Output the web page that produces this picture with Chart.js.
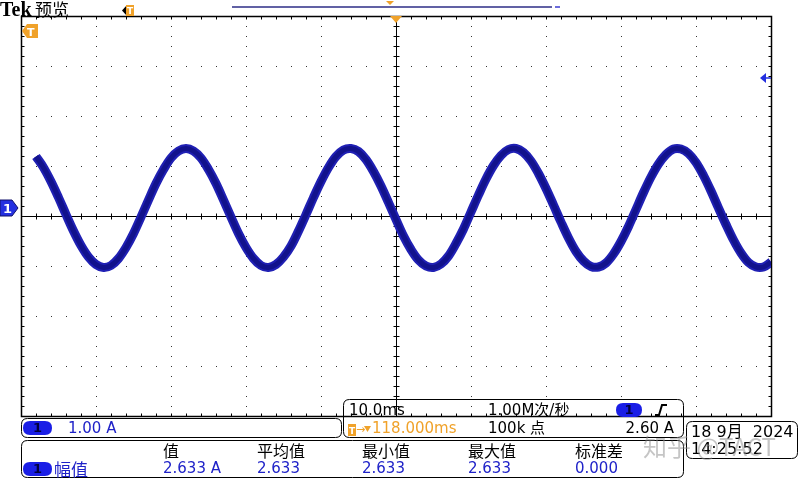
<!DOCTYPE html>
<html>
<head>
<meta charset="utf-8">
<script src="https://cdn.jsdelivr.net/npm/chart.js@4.4.1/dist/chart.umd.min.js"></script>
<style>
  html, body { margin: 0; padding: 0; background: #fff; }
  #scope { display: block; }
</style>
</head>
<body>
<canvas id="scope" width="800" height="480"></canvas>
<script>
// Temps des échantillons (ms, 10 ms/div) et courant voie 1 (A, 1 A/div)
const sampleTimes = [
  2, 3, 4, 5, 6, 7, 8, 9, 10, 11, 12, 13, 14, 15, 16, 17, 18, 19, 20, 21,
  22, 23, 24, 25, 26, 27, 28, 29, 30, 31, 32, 33, 34, 35, 36, 37, 38, 39, 40, 41, 42, 43,
  44, 45, 46, 47, 48, 49, 50, 51, 52, 53, 54, 55, 56, 57, 58, 59, 60, 61, 62, 63, 64, 65,
  66, 67, 68, 69, 70, 71, 72, 73, 74, 75, 76, 77, 78, 79, 80, 81, 82, 83, 84, 85, 86, 87,
  88, 89, 90, 91, 92, 93, 94, 95, 96, 97, 98, 99, 100
];
const ch1Current = [
  1.19, 0.97, 0.69, 0.37, 0.03, -0.30, -0.59, -0.82, -0.97, -1.03, -0.99, -0.85, -0.63, -0.35, -0.02, 0.32, 0.65, 0.93, 1.16, 1.30,
  1.35, 1.30, 1.16, 0.93, 0.65, 0.32, -0.02, -0.35, -0.63, -0.85, -0.99, -1.03, -0.97, -0.82, -0.60, -0.30, 0.03, 0.37, 0.69, 0.97, 1.19, 1.32,
  1.35, 1.29, 1.13, 0.89, 0.60, 0.27, -0.07, -0.40, -0.67, -0.88, -1.00, -1.03, -0.96, -0.80, -0.55, -0.26, 0.08, 0.42, 0.74, 1.01, 1.21, 1.33,
  1.35, 1.27, 1.10, 0.85, 0.55, 0.22, -0.12, -0.44, -0.71, -0.90, -1.01, -1.02, -0.94, -0.76, -0.51, -0.21, 0.13, 0.47, 0.78, 1.04, 1.23, 1.34,
  1.34, 1.25, 1.07, 0.81, 0.50, 0.16, -0.17, -0.48, -0.74, -0.93, -1.02, -1.02, -0.92
];

// Textes de l'écran
const measureHeaders = [ "值", "平均值", "最小值", "最大值", "标准差" ];
const measureValues = [ "2.633 A", "2.633", "2.633", "2.633", "0.000" ];
const measureX = [ 163, 257, 362, 468, 575 ];

const BLUE = "#1f22c8";
const ORANGE = "#f0a22a";
const TEXT_FONT = '"DejaVu Sans", "Noto Sans CJK SC", sans-serif';
const CJK_FONT = '"Noto Sans CJK SC", sans-serif';

function rrect( ctx, x, y, w, h, r ) {
	ctx.beginPath();
	ctx.moveTo( x + r, y );
	ctx.lineTo( x + w - r, y );
	ctx.quadraticCurveTo( x + w, y, x + w, y + r );
	ctx.lineTo( x + w, y + h - r );
	ctx.quadraticCurveTo( x + w, y + h, x + w - r, y + h );
	ctx.lineTo( x + r, y + h );
	ctx.quadraticCurveTo( x, y + h, x, y + h - r );
	ctx.lineTo( x, y + r );
	ctx.quadraticCurveTo( x, y, x + r, y );
	ctx.closePath();
}

function pill( ctx, x, y, w, h ) {
	rrect( ctx, x, y, w, h, h / 2 );
	ctx.fillStyle = "#1a1ee6";
	ctx.fill();
	ctx.fillStyle = "#000040";
	ctx.font = "bold 13px " + TEXT_FONT;
	ctx.textAlign = "center";
	ctx.textBaseline = "middle";
	ctx.fillText( "1", x + w / 2, y + h / 2 + 1 );
	ctx.textAlign = "left";
	ctx.textBaseline = "alphabetic";
}

//
// Réticule central, cadre et graduations, sous la trace
//
const reticule = {
	id: "reticule",
	beforeDatasetsDraw( chart ) {
		const ctx = chart.ctx;
		const a = chart.chartArea;
		const cx = Math.round( chart.scales.x.getPixelForValue( 50 ) ) + 0.5;
		const cy = Math.round( chart.scales.y.getPixelForValue( 0 ) ) + 0.5;
		const L = a.left + 0.5, R = a.right + 0.5, T = a.top + 0.5, B = a.bottom + 0.5;
		ctx.save();
		ctx.strokeStyle = "#000";
		ctx.lineWidth = 1;
		ctx.beginPath();
		ctx.moveTo( L, cy ); ctx.lineTo( R, cy );
		ctx.moveTo( cx, T ); ctx.lineTo( cx, B );
		for ( let x = L; x <= R + 0.1; x += 15 ) {
			ctx.moveTo( x, cy - 3 ); ctx.lineTo( x, cy + 3 );
			ctx.moveTo( x, T ); ctx.lineTo( x, T + 3 );
			ctx.moveTo( x, B - 3 ); ctx.lineTo( x, B );
		}
		for ( let y = T; y <= B + 0.1; y += 10 ) {
			ctx.moveTo( cx - 3, y ); ctx.lineTo( cx + 3, y );
			ctx.moveTo( L, y ); ctx.lineTo( L + 3, y );
			ctx.moveTo( R - 3, y ); ctx.lineTo( R, y );
		}
		ctx.stroke();
		ctx.lineWidth = 1.5;
		ctx.strokeRect( L, T, R - L, B - T );
		ctx.restore();
	},
	afterDraw( chart ) {
		const ctx = chart.ctx;
		const cx = chart.scales.x.getPixelForValue( 50 );
		ctx.save();

		// En-tête
		ctx.fillStyle = "#000";
		ctx.font = 'bold 20px "Liberation Serif", serif';
		ctx.fillText( "Tek", 0, 16 );
		ctx.font = "17px " + CJK_FONT;
		ctx.fillText( "预览", 35, 16 );

		// petit repère T de l'enregistrement
		ctx.beginPath();
		ctx.moveTo( 122, 10.5 ); ctx.lineTo( 127, 5 ); ctx.lineTo( 127, 16 ); ctx.closePath();
		ctx.fillStyle = "#000"; ctx.fill();
		ctx.fillStyle = ORANGE; ctx.fillRect( 126, 5, 8, 11 );
		ctx.fillStyle = "#fff"; ctx.font = "bold 9px " + TEXT_FONT;
		ctx.fillText( "T", 127, 14 );

		// barre d'enregistrement
		ctx.strokeStyle = "#2c2c86"; ctx.lineWidth = 1.5;
		ctx.beginPath(); ctx.moveTo( 232, 7 ); ctx.lineTo( 552, 7 ); ctx.stroke();
		ctx.strokeStyle = "#3a3ad0";
		ctx.beginPath(); ctx.moveTo( 555, 7 ); ctx.lineTo( 560, 7 ); ctx.stroke();
		ctx.fillStyle = ORANGE;
		ctx.beginPath(); ctx.moveTo( 386, 1 ); ctx.lineTo( 394, 1 ); ctx.lineTo( 390, 5 ); ctx.closePath(); ctx.fill();

		// position de déclenchement
		ctx.beginPath(); ctx.moveTo( cx - 6, 16 ); ctx.lineTo( cx + 6, 16 ); ctx.lineTo( cx, 23 ); ctx.closePath(); ctx.fill();

		// niveau de déclenchement T à gauche
		ctx.beginPath();
		ctx.moveTo( 22, 31 ); ctx.lineTo( 27, 24 ); ctx.lineTo( 38, 24 ); ctx.lineTo( 38, 38 ); ctx.lineTo( 27, 38 ); ctx.closePath();
		ctx.fillStyle = ORANGE; ctx.fill();
		ctx.fillStyle = "#fff"; ctx.font = "bold 11px " + TEXT_FONT;
		ctx.fillText( "T", 27, 36 );

		// repère de masse voie 1
		ctx.beginPath();
		ctx.moveTo( 0, 200 ); ctx.lineTo( 12, 200 ); ctx.lineTo( 18, 208 ); ctx.lineTo( 12, 216 ); ctx.lineTo( 0, 216 ); ctx.closePath();
		ctx.fillStyle = "#2430e0"; ctx.fill();
		ctx.strokeStyle = "#10106a"; ctx.lineWidth = 1; ctx.stroke();
		ctx.fillStyle = "#fff"; ctx.font = "bold 13px " + TEXT_FONT;
		ctx.fillText( "1", 3, 213 );

		// flèche de niveau à droite
		ctx.fillStyle = "#2430e0";
		ctx.beginPath(); ctx.moveTo( 760, 78 ); ctx.lineTo( 766, 73 ); ctx.lineTo( 766, 83 ); ctx.closePath(); ctx.fill();
		ctx.strokeStyle = "#2430e0"; ctx.lineWidth = 1.5;
		ctx.beginPath(); ctx.moveTo( 765, 78 ); ctx.lineTo( 771, 78 ); ctx.stroke();

		// Panneaux du bas
		ctx.strokeStyle = "#000"; ctx.lineWidth = 1;
		rrect( ctx, 21.5, 418.5, 320, 19, 6 ); ctx.stroke();
		rrect( ctx, 343.5, 399.5, 340, 38, 6 ); ctx.stroke();
		rrect( ctx, 21.5, 440.5, 662, 37, 6 ); ctx.stroke();
		rrect( ctx, 686.5, 421.5, 111, 37, 6 ); ctx.stroke();

		pill( ctx, 23, 421, 29, 14 );
		ctx.fillStyle = BLUE; ctx.font = "15px " + TEXT_FONT;
		ctx.fillText( "1.00 A", 68, 433 );

		ctx.fillStyle = "#000";
		ctx.fillText( "10.0ms", 349, 415 );
		ctx.fillText( "1.00M次/秒", 488, 415 );
		ctx.fillText( "100k 点", 488, 433 );
		ctx.textAlign = "right";
		ctx.fillText( "2.60 A", 674, 433 );
		ctx.textAlign = "left";
		pill( ctx, 616, 403, 26, 14 );
		ctx.strokeStyle = "#000"; ctx.lineWidth = 2;
		ctx.beginPath(); ctx.moveTo( 655, 415 ); ctx.lineTo( 659, 415 ); ctx.lineTo( 662, 405 ); ctx.lineTo( 667, 405 ); ctx.stroke();

		ctx.fillStyle = ORANGE; ctx.fillRect( 348, 424, 8, 12 );
		ctx.fillStyle = "#fff"; ctx.font = "bold 9px " + TEXT_FONT;
		ctx.fillText( "T", 349, 434 );
		ctx.fillStyle = ORANGE; ctx.font = "11px " + TEXT_FONT;
		ctx.fillText( "→", 356, 433 );
		ctx.beginPath(); ctx.moveTo( 364, 426 ); ctx.lineTo( 371, 426 ); ctx.lineTo( 367.5, 432 ); ctx.closePath(); ctx.fill();
		ctx.font = "15px " + TEXT_FONT;
		ctx.fillText( "118.000ms", 372, 433 );

		ctx.fillStyle = "#000"; ctx.font = "16px " + CJK_FONT;
		measureHeaders.forEach( ( h, i ) => ctx.fillText( h, measureX[ i ], 457 ) );
		pill( ctx, 23, 462, 29, 14 );
		ctx.fillStyle = BLUE; ctx.font = "17px " + CJK_FONT;
		ctx.fillText( "幅值", 54, 476 );
		ctx.font = "15px " + TEXT_FONT;
		measureValues.forEach( ( v, i ) => ctx.fillText( v, measureX[ i ], 473 ) );

		ctx.fillStyle = "#000"; ctx.font = "16px " + TEXT_FONT;
		ctx.fillText( "18 9月  2024", 691, 437 );
		ctx.fillText( "14:25:52", 691, 454 );

		// filigrane
		ctx.fillStyle = "rgba(140,140,140,0.5)";
		ctx.font = "24px " + CJK_FONT;
		ctx.fillText( "知乎 @TACT", 643, 456 );

		ctx.restore();
	}
};

const points = sampleTimes.map( ( t, i ) => ( { x: t, y: ch1Current[ i ] } ) );

new Chart( document.getElementById( "scope" ),
	{
		type: "line",
		data: {
			datasets: [
				{
					data: points,
					borderColor: "#12128c",
					borderWidth: 5,
					pointRadius: 0,
					tension: 0.35,
					borderCapStyle: "butt"
				},
				{
					data: points,
					borderColor: "#2020b4",
					borderWidth: 9,
					pointRadius: 0,
					tension: 0.35,
					borderCapStyle: "butt"
				}
			]
		},
		options: {
			responsive: false,
			animation: false,
			devicePixelRatio: 1,
			layout: { padding: { left: 21, top: 16, right: 29, bottom: 64 } },
			plugins: {
				legend: { display: false },
				tooltip: { enabled: false }
			},
			scales: {
				x: {
					type: "linear",
					min: 0,
					max: 100,
					ticks: { display: false, stepSize: 10 },
					grid: { color: "#333", drawTicks: false },
					border: { display: false, dash: [ 1, 9 ] }
				},
				y: {
					min: -4,
					max: 4,
					ticks: { display: false, stepSize: 1 },
					grid: { color: "#333", drawTicks: false },
					border: { display: false, dash: [ 1, 14 ] }
				}
			}
		},
		plugins: [ reticule ]
	} );
</script>
</body>
</html>
